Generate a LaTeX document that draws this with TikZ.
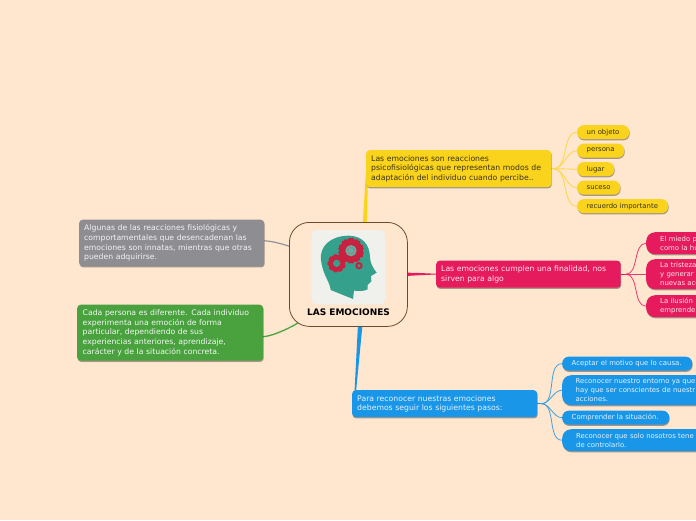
\documentclass[tikz,border=0pt]{standalone}
\usepackage{fontspec}
\setmainfont{DejaVu Sans}
\usetikzlibrary{shadows,backgrounds,calc}
\definecolor{pagebg}{HTML}{FFE6CF}
\definecolor{cy}{HTML}{FAD31C}
\definecolor{cp}{HTML}{E61B5D}
\definecolor{cb}{HTML}{1A96E8}
\definecolor{cg}{HTML}{8D8D92}
\definecolor{cv}{HTML}{4AA23F}
\definecolor{cbr}{HTML}{6E4A28}
\definecolor{headc}{HTML}{35A08C}
\definecolor{gearc}{HTML}{C9203F}
\definecolor{panel}{HTML}{F0F0EC}
\definecolor{darktx}{HTML}{3A3416}
\tikzset{
  wh/.style n args={3}{minimum width=#1pt,minimum height=#2pt,text width=#1pt-2*#3pt,inner xsep=#3pt},
  base/.style={rectangle,inner ysep=0pt,align=left,anchor=north west,
    drop shadow={shadow xshift=0.5pt,shadow yshift=-1.2pt,opacity=.35,fill=black}},
  mainbox/.style={base,rounded corners=3.5pt,font=\fontsize{7.72}{9.6}\selectfont},
  subbox/.style={base,font=\fontsize{6.9}{9}\selectfont},
  pill/.style={subbox,rounded corners=6.5pt},
  tallpill/.style={subbox,rounded corners=9pt},
  link/.style={line width=.8pt,out=0,in=180,looseness=.9},
}
\newcommand{\gearfig}[5]{% x y outer body n
  \foreach \a in {1,...,#5}{\draw[gearc,line width=#4*.5] ($(#1,#2)+({\a*360/#5}:#4)$) -- ($(#1,#2)+({\a*360/#5}:#3)$);}
}
\begin{document}
\begin{tikzpicture}[x=1pt,y=-1pt]
\useasboundingbox (0,0) rectangle (696,520);
\node[rectangle,draw=cbr,line width=.8pt,fill=pagebg,rounded corners=20pt,minimum width=118pt,minimum height=104pt,anchor=north west] (center) at (289,222) {};
% image panel
\begin{scope}[shift={(280,210)},x=.3333pt,y=-.3333pt]
\fill[panel,rounded corners=5pt] (94,60) rectangle (316,283);
\fill[headc] (152,240) .. controls (150,215) and (128,195) .. (123,150)
  .. controls (118,110) and (150,78) .. (205,77)
  .. controls (250,78) and (268,105) .. (270,140)
  .. controls (270,160) and (280,175) .. (290,188)
  -- (273,198) -- (274,214) -- (263,225) -- (263,238)
  .. controls (250,245) and (235,243) .. (222,242) -- (219,267) -- cycle;
\gearfig{213}{122}{35}{24}{10}
\fill[gearc] (213,122) circle (25);
\fill[headc!80!panel] (213,122) circle (17);
\draw[gearc!70!panel,line width=.5pt] (213,122) circle (10);
\gearfig{170}{160}{25}{17}{9}
\fill[gearc] (170,160) circle (18);
\fill[headc] (170,160) circle (11);
\fill[gearc] (237,167) circle (11);
\fill[headc] (237,167) circle (5);
\end{scope}
\node[font=\bfseries\fontsize{9}{10}\selectfont,text=black,inner sep=0pt] (title) at (348.5,312) {LAS EMOCIONES};
% main topics
\node[mainbox,fill=cy,text=darktx,wh={185}{37}{5}] (yellow) at (366,150) {Las emociones son reacciones\\psicofisiológicas que representan modos de\\adaptación del individuo cuando percibe..};
\node[mainbox,fill=cp,text=white!88!cp,wh={184.5}{27}{5}] (pink) at (436,260.5) {Las emociones cumplen una finalidad, nos\\sirven para algo};
\node[mainbox,fill=cb,text=white!88!cb,wh={185}{27}{5}] (blue) at (352,390) {Para reconocer nuestras emociones\\debemos seguir los siguientes pasos:};
\node[mainbox,fill=cg,text=white!90!cg,wh={185}{46.5}{5}] (gray) at (79,219.5) {Algunas de las reacciones fisiológicas y\\comportamentales que desencadenan las\\emociones son innatas, mientras que otras\\pueden adquirirse.};
\node[mainbox,fill=cv,text=white!92!cv,wh={186}{56}{5.5}] (green) at (77,304.5) {Cada persona es diferente. Cada individuo\\experimenta una emoción de forma\\particular, dependiendo de sus\\experiencias anteriores, aprendizaje,\\carácter y de la situación concreta.};
% yellow subtopics
\node[pill,fill=cy,text=darktx,wh={52}{14}{9.5}] (y1) at (577,125) {un objeto};
\node[pill,fill=cy,text=darktx,wh={47}{14}{9.5}] (y2) at (577,143.5) {persona};
\node[pill,fill=cy,text=darktx,wh={37}{14}{9.5}] (y3) at (577,162) {lugar};
\node[pill,fill=cy,text=darktx,wh={43}{14}{9.5}] (y4) at (577,180.5) {suceso};
\node[pill,fill=cy,text=darktx,wh={91}{14}{9.5}] (y5) at (577,199) {recuerdo importante};
% pink subtopics (run off the page)
\node[tallpill,fill=cp,text=white!88!cp,wh={80}{22}{14}] (p1) at (646,232) {El miedo p\\como la hu};
\node[tallpill,fill=cp,text=white!88!cp,wh={80}{30}{14}] (p2) at (646,259) {La tristeza\\y generar\\nuevas acc};
\node[tallpill,fill=cp,text=white!88!cp,wh={80}{22}{14}] (p3) at (646,295) {La ilusión\\emprende};
% blue subtopics
\node[pill,fill=cb,text=white!88!cb,wh={130}{14}{9.5}] (b1) at (562,356.5) {Aceptar el motivo que lo causa.};
\node[tallpill,fill=cb,text=white!88!cb,wh={170}{30}{13.5}] (b2) at (562,375) {Reconocer nuestro entorno ya que\\hay que ser conscientes de nuestr\\acciones.};
\node[pill,fill=cb,text=white!88!cb,wh={107}{14}{9.5}] (b3) at (562,410.5) {Comprender la situación.};
\node[tallpill,fill=cb,text=white!88!cb,wh={170}{22}{14}] (b4) at (562,429) {Reconocer que solo nosotros tene\\de controlarlo.};
\begin{scope}[on background layer]
\fill[pagebg] (0,0) rectangle (696,520);
% trunks
\fill[cy] ($(center.north)+(14.5,1)$) .. controls +(1,-20) and +(1.5,-30) .. ($(yellow.west)+(.5,0)$) -- ($(yellow.west)+(1.5,0)$) .. controls +(.5,30) and +(0,20) .. ($(center.north)+(18,1)$) -- cycle;
\fill[cb] ($(center.south)+(9.5,-1)$) -- ($(blue.north west)+(2.5,2)$) -- ($(blue.north west)+(4,2)$) -- ($(center.south)+(14,-1)$) -- cycle;
\fill[cp] ($(center.east)+(-1,-1.7)$) .. controls +(12,0) and +(18,1) .. ($(pink.west)+(1,-.4)$) -- ($(pink.west)+(1,.4)$) .. controls +(-12,0) and +(-18,1) .. ($(center.east)+(-1,1.7)$) -- cycle;
\draw[cg,line width=1.1pt] (gray.east) ++(-1,-2) .. controls +(10,-1) and +(16,3) .. (center.west |- 0,248);
\draw[cv,line width=1.3pt] (green.east) ++(-1,4) .. controls +(15,0) and +(24,-6) .. (297,318);
\draw[cy!75!pagebg,line width=.8pt] (yellow.east) -- ++(2,0) coordinate (yo);
\foreach \t in {y1,y2,y3,y4,y5}{\draw[link,cy!80!pagebg] (yo) to (\t.west);}
\draw[cp,line width=.8pt] (pink.east) -- ++(5,0) coordinate (po);
\foreach \t in {p1,p2,p3}{\draw[link,cp!85!pagebg] (po) to (\t.west);}
\draw[cb,line width=.8pt] (blue.east) -- ++(4,0) coordinate (bo);
\foreach \t in {b1,b2,b3,b4}{\draw[link,cb!85!pagebg] (bo) to (\t.west);}
\end{scope}
\end{tikzpicture}
\end{document}
